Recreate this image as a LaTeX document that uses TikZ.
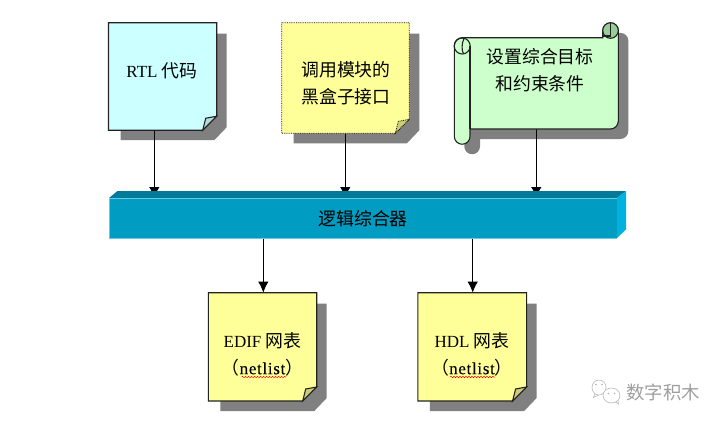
\documentclass[tikz,border=0pt]{standalone}
\usepackage{fontspec}
\setmainfont{Liberation Serif}
\newfontfamily\cjk[Scale=1.05]{Noto Sans CJK SC}
\newfontfamily\netfont[LetterSpace=4,FakeBold=0.2]{Liberation Serif}
\usetikzlibrary{arrows.meta,decorations.pathmorphing}
\pgfdeclarelayer{bg}
\pgfsetlayers{bg,main}
\definecolor{shadowgray}{HTML}{808080}
\definecolor{notecyan}{HTML}{CCFFFF}
\definecolor{notefold}{HTML}{B2DADA}
\definecolor{noteyellow}{HTML}{FFFF99}
\definecolor{yellowfold}{HTML}{CCCC7A}
\definecolor{notegreen}{HTML}{CCFFCC}
\definecolor{rolldark}{HTML}{99CC99}
\definecolor{barfront}{HTML}{009CC2}
\definecolor{bartop}{HTML}{007A99}
\definecolor{barside}{HTML}{00B2E0}
\definecolor{baredge}{HTML}{66CCE0}
\definecolor{edgeblack}{HTML}{222222}
\tikzset{
  paper/.style={draw=edgeblack,line width=1.1pt,line join=miter},
  dotpaper/.style={draw=black,line width=.8pt,densely dotted},
  flow/.style={draw=black,line width=1.2pt,-{Latex[length=11pt,width=10.5pt]}},
  label/.style={font=\fontsize{17}{27}\selectfont,align=center,text=black,inner sep=0pt},
  squiggle/.style={draw=red,line width=.5pt,decorate,decoration={snake,amplitude=.7pt,segment length=3pt}},
  markgray/.style={draw=gray!55,line width=.6pt}
}
% name, left, top, width, height, fill, fold fill, border style
\newcommand{\notebox}[8]{
  \begin{pgfonlayer}{bg}
    \fill[shadowgray] (#2+12,#3+11) -- (#2+#4+10,#3+11) -- (#2+#4+10,#3+#5-3) -- (#2+#4-2.4,#3+#5+10) -- (#2+12,#3+#5+10) -- cycle;
  \end{pgfonlayer}
  \path[#8,fill=#6] (#2,#3) -- (#2+#4,#3) -- (#2+#4,#3+#5-14) -- (#2+#4-14,#3+#5) -- (#2,#3+#5) -- cycle;
  \path[#8,fill=#7] (#2+#4,#3+#5-14) -- (#2+#4-11,#3+#5-12) -- (#2+#4-14,#3+#5) -- cycle;
  \node [anchor=north west,minimum width=#4pt,minimum height=#5pt,inner sep=0pt] (#1) at (#2,#3) {};
}
\newcommand{\scrolloutline}{
  (462,37.7) -- (602.7,37.7) -- (602.7,30.7) arc[start angle=180,end angle=360,radius=7.8]
  -- (618.3,121) arc[start angle=0,end angle=90,radius=8] -- (470,129) -- (470,136.4)
  arc[start angle=0,end angle=180,radius=7.85] -- (454.3,45.6) arc[start angle=180,end angle=270,radius=7.9] -- cycle
}
\begin{document}
\begin{tikzpicture}[x=1pt,y=-1pt]
    \useasboundingbox (0,0) rectangle (722,424);

    \notebox{rtl}{108.5}{22.7}{108.2}{107.5}{notecyan}{notefold}{paper}
    \notebox{blackbox}{281.7}{22.7}{127.6}{110.6}{noteyellow}{yellowfold}{dotpaper}
    \notebox{edif}{208.4}{292.7}{108.3}{108.3}{noteyellow}{yellowfold}{paper}
    \notebox{hdl}{417.8}{292.7}{108.8}{108.3}{noteyellow}{yellowfold}{paper}

    % scroll
    \begin{pgfonlayer}{bg}
        \fill[shadowgray,shift={(10,10)}] \scrolloutline;
    \end{pgfonlayer}
    \path[paper,fill=notegreen] \scrolloutline;
    \draw[paper] (470,45.6) -- (470,129);
    \draw[paper] (462.2,46) circle[radius=8];
    \draw[paper] (464,38.5) .. controls (461.5,44) and (461.5,50) .. (463.5,53.8);
    \path[paper,fill=rolldark] (610.5,30.5) circle[radius=7.8];
    \draw[paper] (610.5,23) -- (610.5,36) -- (603,36);
    \draw[paper] (618.3,30.5) -- (618.3,38);
    \node [anchor=north west,minimum width=164pt,minimum height=91.3pt,inner sep=0pt] (scrollbox) at (454.3,37.7) {};

    % logic bar
    \fill[bartop] (109,198) -- (117.5,191) -- (626,191) -- (617,198) -- cycle;
    \fill[barside] (617,198) -- (626,191) -- (626,229.5) -- (617,238) -- cycle;
    \node [fill=barfront,anchor=north west,minimum width=508pt,minimum height=40pt,inner sep=0pt,label] (logicbar) at (109,198) {\cjk 逻辑综合器};
    \draw[baredge,line width=.8pt] (109,198) -- (109,238) -- (617,238);
    \draw[baredge,line width=.5pt] (109,198) -- (617,198);

    \node [label] (rtltext) at (162,71) {RTL {\cjk 代码}};
    \node [label] (blacktext) at (346,83.5) {\cjk 调用模块的\\\cjk 黑盒子接口};
    \node [label] (scrolltext) at (540,70) {\cjk 设置综合目标\\\cjk 和约束条件};
    \node [label] (ediftext) at (262.5,354) {EDIF {\cjk 网表}\\{\cjk （}{\netfont netlist}{\cjk ）}};
    \node [label] (hdltext) at (472,354) {HDL {\cjk 网表}\\{\cjk （}{\netfont netlist}{\cjk ）}};
    \draw[squiggle] (241.7,377) -- (286,377);
    \draw[squiggle] (450,377) -- (495,377);

    \begin{pgfonlayer}{bg}    % connectors stay behind the bar
        \foreach \src/\xpos in {rtl/154.3,blackbox/345.3,scrollbox/536.3}
            \draw[flow] (\src.south -| \xpos,0) -- (logicbar.north -| \xpos,0);
        \foreach \dst/\xpos in {edif/263.3,hdl/472.7}
            \draw[flow] (logicbar.south -| \xpos,0) -- (\dst.north -| \xpos,0);
    \end{pgfonlayer}

    % watermark
    \draw[markgray] (599,387.5) ellipse[x radius=7,y radius=7.5];
    \draw[markgray] (595,393.5) -- (593.5,397.5) -- (598.5,395);
    \path[markgray,fill=white] (611.5,395.5) ellipse[x radius=8.5,y radius=7.5];
    \draw[markgray] (615.5,402) -- (618.5,404) -- (618,400);
    \fill[gray!60] (596,384.5) circle[radius=.9] (602,384.5) circle[radius=.9] (608.5,393.5) circle[radius=.8] (614.5,393.5) circle[radius=.8];
    \node [font=\fontsize{17.5}{20}\selectfont\cjk,text=gray!75,inner sep=0pt] (marktext) at (663,392.5) {数字积木};
\end{tikzpicture}
\end{document}
